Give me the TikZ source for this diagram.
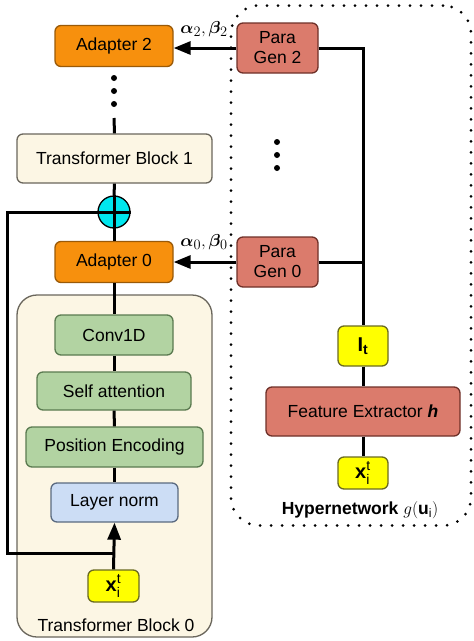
\documentclass[tikz,border=0pt]{standalone}
\usepackage{amsmath,bm}
\usepackage{fontspec}
\setmainfont{Liberation Sans}
\usetikzlibrary{arrows.meta}
\definecolor{adapt}{HTML}{F7900D}
\definecolor{adaptd}{HTML}{9A5A08}
\definecolor{para}{HTML}{DB7B6C}
\definecolor{parad}{HTML}{6E3028}
\definecolor{grn}{HTML}{B2D3A2}
\definecolor{grnd}{HTML}{5A7A50}
\definecolor{blu}{HTML}{CCDDF5}
\definecolor{blud}{HTML}{5A6A80}
\definecolor{cream}{HTML}{FCF6E4}
\definecolor{creamd}{HTML}{6A665C}
\definecolor{yel}{HTML}{FFFF00}
\definecolor{yeld}{HTML}{6A6A20}
\definecolor{cyn}{HTML}{00E6EE}
\tikzset{
  box/.style={draw, rounded corners=6pt, line width=1.3pt, inner sep=0pt, align=center,
    font=\fontsize{17.5}{20}\selectfont},
  adbox/.style={box, fill=adapt, draw=adaptd, minimum width=118pt, minimum height=41pt},
  pgbox/.style={box, fill=para, draw=parad, minimum width=81pt, minimum height=50pt},
  gbox/.style={box, fill=grn, draw=grnd, minimum height=40pt},
  ybox/.style={box, fill=yel, draw=yeld, minimum width=50pt, font=\fontsize{20}{22}\selectfont},
  conn/.style={line width=3pt, black},
  arr/.style={conn, -{Triangle[length=17pt,width=13pt]}},
  vdot/.style={circle, fill=black, inner sep=0pt, minimum size=6pt},
  lab/.style={inner sep=0pt, font=\fontsize{17.5}{20}\selectfont},
  glab/.style={inner sep=0pt, font=\fontsize{19}{20}\selectfont},
}
\begin{document}
\begin{tikzpicture}[x=1pt,y=-1pt]
\useasboundingbox (0,0) rectangle (474,641);
% backgrounds
\node[draw=creamd, fill=cream, line width=1.3pt, rounded corners=20pt, minimum width=195pt, minimum height=342pt, inner sep=0pt] (tb0) at (114.5,466) {};
\node[draw, line width=3pt, dash pattern=on 0pt off 11pt, line cap=round, rounded corners=28pt, minimum width=240pt, minimum height=520pt, inner sep=0pt] (hyp) at (351,265.5) {};
% left column
\node[adbox] (ad2) at (114,46) {Adapter 2};
\node[vdot] (v1) at (114,78) {};
\node[vdot] (v2) at (114,91) {};
\node[vdot] (v3) at (114,104) {};
\coordinate (d1) at (114,118);
\node[box, fill=cream, draw=creamd, minimum width=195pt, minimum height=49pt] (tb1) at (114.5,158.5) {Transformer Block 1};
\node[circle, draw, fill=cyn, line width=1.3pt, minimum size=32pt, inner sep=0pt] (plus) at (114,212) {};
\node[adbox] (ad0) at (114,262) {Adapter 0};
\node[gbox, minimum width=118pt] (conv) at (114,335) {Conv1D};
\node[gbox, minimum width=154pt, minimum height=38pt] (sa) at (114,391) {Self attention};
\node[gbox, minimum width=177pt] (pe) at (114.5,447) {Position Encoding};
\node[box, fill=blu, draw=blud, minimum width=127pt, minimum height=39pt] (ln) at (114.5,502.5) {Layer norm};
\node[ybox, minimum height=32pt, minimum width=51pt] (xl) at (113.5,586) {$\textbf{x}^{\text{t}}_{\text{i}}$};
\node[lab] (tb0lab) at (116,625) {Transformer Block 0};
\coordinate (jn) at (114,553);
\coordinate (sk) at (7,212);
% right column
\node[pgbox] (pg2) at (277.5,48) {Para\\Gen 2};
\node[vdot] (w1) at (277,142) {};
\node[vdot] (w2) at (277,155) {};
\node[vdot] (w3) at (277,168) {};
\node[pgbox] (pg0) at (277.5,262) {Para\\Gen 0};
\node[ybox, minimum height=40pt] (it) at (363,346) {$\textbf{I}_{\textbf{t}}$};
\node[box, fill=para, draw=parad, minimum width=194pt, minimum height=49pt] (fe) at (363,411.5) {Feature Extractor \textbf{\textit{h}}};
\node[ybox, minimum height=32pt] (xh) at (363,473) {$\textbf{x}^{\text{t}}_{\text{i}}$};
\node[lab] (hl) at (360,510) {\textbf{Hypernetwork} $g(\mathbf{u}_{\text{i}})$};
\node[glab] (a2) at (204,29) {$\bm{\alpha}_2, \bm{\beta}_2$};
\node[glab] (a0) at (204,242) {$\bm{\alpha}_0, \bm{\beta}_0$};
% connectors
\draw[conn] (d1) -- (tb1.north);
\draw[conn] (tb1.south) -- (plus.north);
\draw[conn] (plus.north) -- (plus.south);
\draw[conn] (plus.south) -- (ad0.north);
\draw[conn] (plus.west) -- (plus.east);
\draw[conn] (plus.west) -- (sk) |- (jn);
\draw[conn] (ad0.south) -- (conv.north);
\draw[conn] (conv.south) -- (sa.north);
\draw[conn] (sa.south) -- (pe.north);
\draw[conn] (pe.south) -- (ln.north);
\draw[arr] (xl.north) -- (ln.south);
\draw[arr] (pg2.west) -- (ad2.east |- pg2.west);
\draw[arr] (pg0.west) -- (ad0.east |- pg0.west);
\draw[conn] (pg2.east) -| (it.north);
\draw[conn] (pg0.east) -- (pg0.east -| it.north);
\draw[conn] (it.south) -- (fe.north);
\draw[conn] (fe.south) -- (xh.north);
\end{tikzpicture}
\end{document}
